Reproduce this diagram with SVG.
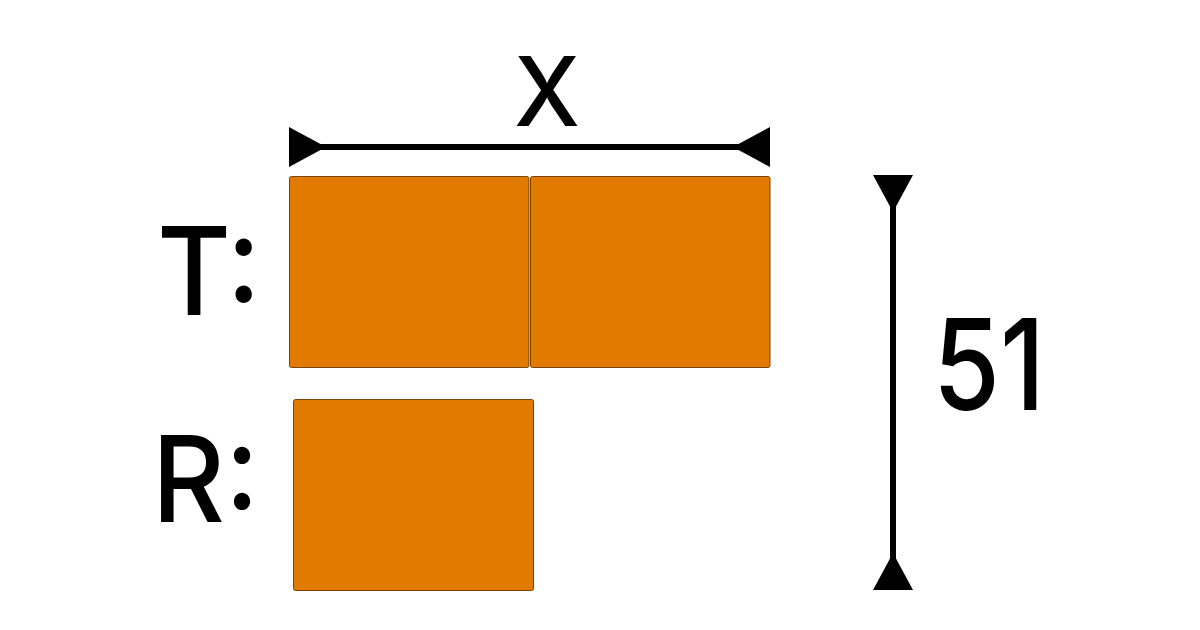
<svg xmlns="http://www.w3.org/2000/svg" width="1200" height="630" viewBox="0 0 1200 630">
<style>
.box{fill:#E07B00;stroke:#7a4300;stroke-width:1}
.lbl{font-family:Inter,"Liberation Sans",Arial,sans-serif;font-weight:500;fill:#000}
.dim{stroke:#000;stroke-width:6;fill:none}
</style>
<rect width="1200" height="630" fill="#fff"/>
<g id="connectors">
<line class="dim" x1="320" y1="147" x2="740" y2="147"/>
<polygon points="289,127 326,147 289,167" fill="#000"/>
<polygon points="770,127 733,147 770,167" fill="#000"/>
<line class="dim" x1="893" y1="205" x2="893" y2="560"/>
<polygon points="873,175 913,175 893,212" fill="#000"/>
<polygon points="873,590 913,590 893,553" fill="#000"/>
</g>
<g id="T1"><rect class="box" x="289.5" y="176.5" width="239.5" height="191" rx="2"/></g>
<g id="T2"><rect class="box" x="530.5" y="176.5" width="239.5" height="191" rx="2"/></g>
<g id="R1"><rect class="box" x="293.5" y="399.5" width="240" height="191" rx="2"/></g>
<g id="labels">
<text class="lbl" x="514" y="126" font-size="96" textLength="66" lengthAdjust="spacingAndGlyphs">X</text>
<text class="lbl" x="157" y="315" font-size="122" textLength="104" lengthAdjust="spacingAndGlyphs">T:</text>
<text class="lbl" x="152" y="522" font-size="120" textLength="107" lengthAdjust="spacingAndGlyphs">R:</text>
<text class="lbl" x="933" y="410" font-size="126" textLength="112" lengthAdjust="spacingAndGlyphs">51</text>
</g>
</svg>
